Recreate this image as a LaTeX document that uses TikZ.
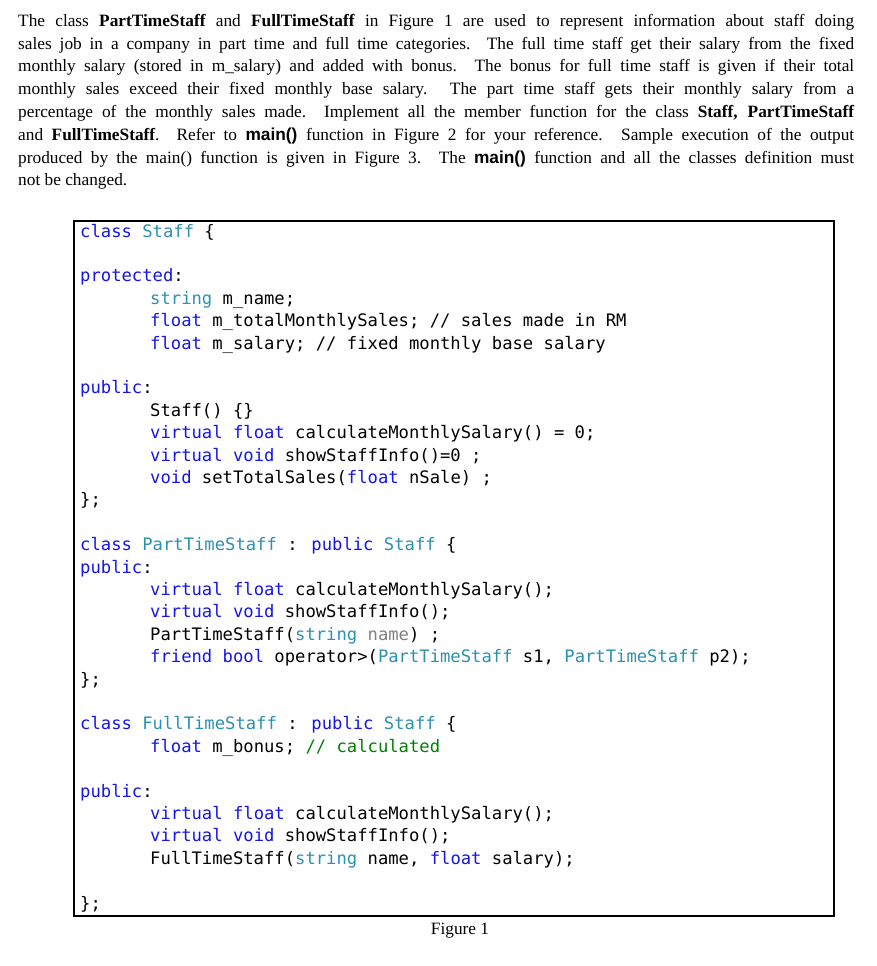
\documentclass[tikz,border=0pt]{standalone}
\usepackage{fontspec}
\setmainfont{Liberation Serif}
\newfontfamily\codef{DejaVu Sans Mono}
\newfontfamily\arialf{Liberation Sans}
\definecolor{kwc}{RGB}{20,20,235}
\definecolor{tyc}{RGB}{43,145,175}
\definecolor{grc}{RGB}{128,128,128}
\definecolor{cmc}{RGB}{0,128,0}
\newcommand\kw[1]{\textcolor{kwc}{#1}}
\newcommand\ty[1]{\textcolor{tyc}{#1}}
\newcommand\gy[1]{\textcolor{grc}{#1}}
\newcommand\cm[1]{\textcolor{cmc}{#1}}
\newcommand\mainb{{\arialf\bfseries main()}}
\begin{document}
\begin{tikzpicture}[x=1pt,y=-1pt,
  codeline/.style={anchor=base west,inner sep=0pt,font=\codef\fontsize{17.2}{20}\selectfont},
  para/.style={anchor=north west,inner sep=0pt,text width=836pt,align=justify,font=\fontsize{17.3}{22.8}\selectfont}]
\useasboundingbox (0,0) rectangle (876,966);
\node[para] (p) at (18,14) {The class \textbf{PartTimeStaff} and \textbf{FullTimeStaff} in Figure 1 are used to represent information about staff doing\linebreak
sales job in a company in part time and full time categories. The full time staff get their salary from the fixed\linebreak
monthly salary (stored in m\_salary) and added with bonus. The bonus for full time staff is given if their total\linebreak
monthly sales exceed their fixed monthly base salary. The part time staff gets their monthly salary from a\linebreak
percentage of the monthly sales made.\ \ Implement all the member function for the class \textbf{Staff, PartTimeStaff}\linebreak
and \textbf{FullTimeStaff}.\ \ Refer to \mainb{} function in Figure 2 for your reference. Sample execution of the output\linebreak
produced by the main() function is given in Figure 3. The \mainb{} function and all the classes definition must\linebreak
not be changed.\par};
\node[draw,line width=1.5pt,minimum width=760pt,minimum height=695pt,anchor=north west,inner sep=0pt] (box) at (73,220) {};
\foreach \i/\x/\t in {
 0/80/{\kw{class} \ty{Staff} \{},
 2/80/{\kw{protected}:},
 3/150/{\ty{string} m\_name;},
 4/150/{\kw{float} m\_totalMonthlySales; // sales made in RM},
 5/150/{\kw{float} m\_salary; // fixed monthly base salary},
 7/80/{\kw{public}:},
 8/150/{Staff() \{\}},
 9/150/{\kw{virtual} \kw{float} calculateMonthlySalary() = 0;},
 10/150/{\kw{virtual} \kw{void} showStaffInfo()=0 ;},
 11/150/{\kw{void} setTotalSales(\kw{float} nSale) ;},
 12/80/{\};},
 14/80/{\kw{class} \ty{PartTimeStaff} : \kw{public} \ty{Staff} \{},
 15/80/{\kw{public}:},
 16/150/{\kw{virtual} \kw{float} calculateMonthlySalary();},
 17/150/{\kw{virtual} \kw{void} showStaffInfo();},
 18/150/{PartTimeStaff(\ty{string} \gy{name}) ;},
 19/150/{\kw{friend} \kw{bool} operator>(\ty{PartTimeStaff} s1, \ty{PartTimeStaff} p2);},
 20/80/{\};},
 22/80/{\kw{class} \ty{FullTimeStaff} : \kw{public} \ty{Staff} \{},
 23/150/{\kw{float} m\_bonus; \cm{// calculated}},
 25/80/{\kw{public}:},
 26/150/{\kw{virtual} \kw{float} calculateMonthlySalary();},
 27/150/{\kw{virtual} \kw{void} showStaffInfo();},
 28/150/{FullTimeStaff(\ty{string} name, \kw{float} salary);},
 30/80/{\};}}
 \node[codeline] (l\i) at (\x,{237+22.4*\i}) {\t};
\node[anchor=base,inner sep=0pt,font=\fontsize{17.3}{20}\selectfont] (cap) at (460,934) {Figure 1};
\end{tikzpicture}
\end{document}
